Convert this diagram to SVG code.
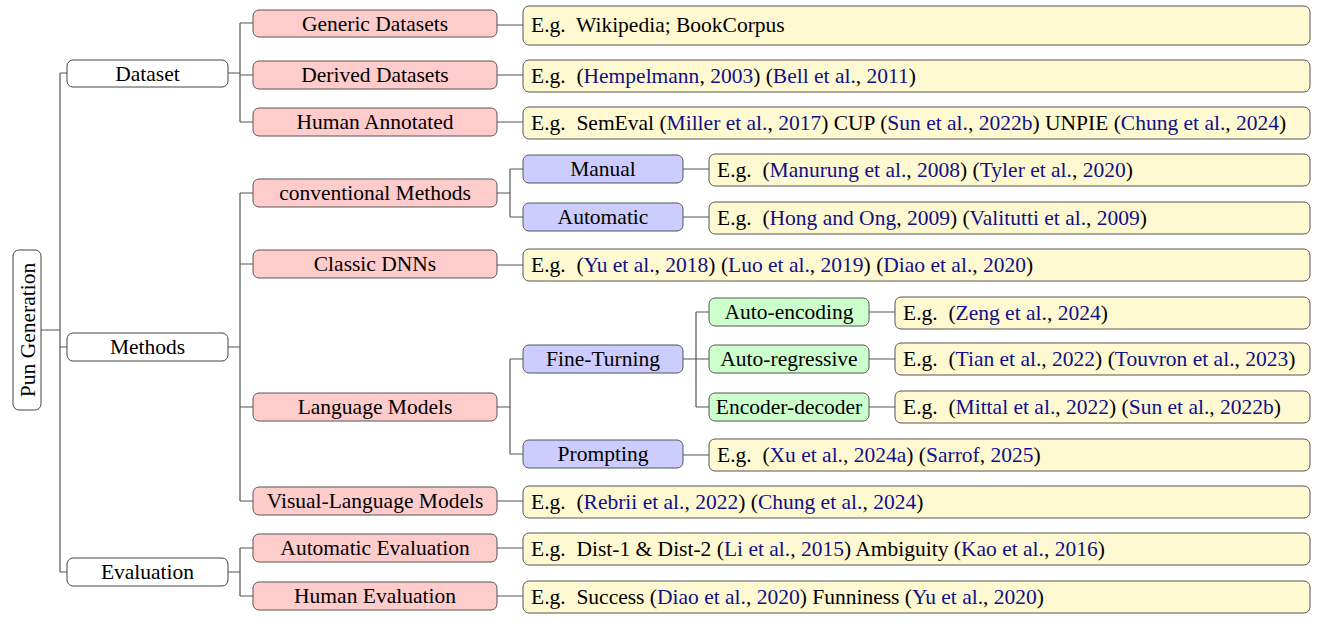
<svg xmlns="http://www.w3.org/2000/svg" width="1317" height="644" viewBox="0 0 1317 644">
<style>
text{font-family:"Liberation Serif","Times New Roman",serif;font-size:21.5px;fill:#000;dominant-baseline:central;white-space:pre}
.c{text-anchor:middle}
.w{fill:#fff;stroke:#444;stroke-width:1}
.p{fill:#ffcccc;stroke:#555;stroke-width:1}
.b{fill:#ccccff;stroke:#555;stroke-width:1}
.g{fill:#ccffcc;stroke:#555;stroke-width:1}
.y{fill:#fff9d2;stroke:#555;stroke-width:1}
.l{fill:#10108a}
#conn path{fill:none;stroke:#555;stroke-width:1.2}
</style>
<rect width="1317" height="644" fill="#fff"/>
<g id="conn">
<path d="M41 330H60M60 73V572M60 73H67M60 347H67M60 572H67"/>
<path d="M228 73H240M240 23V122M240 23H253M240 75H253M240 122H253"/>
<path d="M228 347H240M240 193V501M240 193H253M240 264H253M240 407H253M240 501H253"/>
<path d="M228 572H240M240 548V596M240 548H253M240 596H253"/>
<path d="M497 25H523M497 75H523M497 122H523M497 265H523M497 501H523M497 548H523M497 596H523"/>
<path d="M497 193H510M510 169V217M510 169H523M510 217H523"/>
<path d="M683 169H709M683 217H709M683 455H709"/>
<path d="M497 407H510M510 359V454M510 359H523M510 454H523"/>
<path d="M683 359H696M696 312V407M696 312H709M696 359H709M696 407H709"/>
<path d="M869 312H895M869 359H895M869 407H895"/>
</g>
<g id="root"><rect class="w" x="13" y="250" width="28" height="160" rx="6"/><text class="c" transform="translate(28 330) rotate(-90)">Pun Generation</text></g>
<g id="dataset"><rect class="w" x="67" y="60" width="161" height="27" rx="6"/><text class="c" x="147.5" y="73.5">Dataset</text></g>
<g id="methods"><rect class="w" x="67" y="333" width="161" height="28" rx="6"/><text class="c" x="147.5" y="347">Methods</text></g>
<g id="evaluation"><rect class="w" x="67" y="558" width="161" height="28" rx="6"/><text class="c" x="147.5" y="572">Evaluation</text></g>

<g id="generic"><rect class="p" x="253" y="10" width="244" height="27" rx="6"/><text class="c" x="375" y="23.5">Generic Datasets</text></g>
<g id="derived"><rect class="p" x="253" y="61" width="244" height="28" rx="6"/><text class="c" x="375" y="75">Derived Datasets</text></g>
<g id="human"><rect class="p" x="253" y="108" width="244" height="28" rx="6"/><text class="c" x="375" y="122">Human Annotated</text></g>
<g id="conventional"><rect class="p" x="253" y="179" width="244" height="28" rx="6"/><text class="c" x="375" y="193">conventional Methods</text></g>
<g id="classic"><rect class="p" x="253" y="250" width="244" height="28" rx="6"/><text class="c" x="375" y="264">Classic DNNs</text></g>
<g id="lm"><rect class="p" x="253" y="393" width="244" height="28" rx="6"/><text class="c" x="375" y="407">Language Models</text></g>
<g id="vlm"><rect class="p" x="253" y="487" width="244" height="28" rx="6"/><text class="c" x="375" y="501">Visual-Language Models</text></g>
<g id="autoeval"><rect class="p" x="253" y="534" width="244" height="28" rx="6"/><text class="c" x="375" y="548">Automatic Evaluation</text></g>
<g id="humaneval"><rect class="p" x="253" y="582" width="244" height="28" rx="6"/><text class="c" x="375" y="596">Human Evaluation</text></g>

<g id="manual"><rect class="b" x="523" y="155" width="160" height="28" rx="6"/><text class="c" x="603" y="169">Manual</text></g>
<g id="automatic"><rect class="b" x="523" y="203" width="160" height="28" rx="6"/><text class="c" x="603" y="217">Automatic</text></g>
<g id="finetuning"><rect class="b" x="523" y="345" width="160" height="28" rx="6"/><text class="c" x="603" y="359">Fine-Turning</text></g>
<g id="prompting"><rect class="b" x="523" y="440" width="160" height="28" rx="6"/><text class="c" x="603" y="454">Prompting</text></g>

<g id="autoenc"><rect class="g" x="709" y="298" width="160" height="28" rx="6"/><text class="c" x="789" y="312">Auto-encoding</text></g>
<g id="autoreg"><rect class="g" x="709" y="345" width="160" height="28" rx="6"/><text class="c" x="789" y="359">Auto-regressive</text></g>
<g id="encdec"><rect class="g" x="709" y="393" width="160" height="28" rx="6"/><text class="c" x="789" y="407">Encoder-decoder</text></g>

<g id="y1"><rect class="y" x="523" y="6" width="787" height="39" rx="6"/><text x="531" y="25">E.g.  Wikipedia; BookCorpus</text></g>
<g id="y2"><rect class="y" x="523" y="60" width="787" height="32" rx="6"/><text x="531" y="76">E.g.  (<tspan class="l">Hempelmann</tspan>, <tspan class="l">2003</tspan>) (<tspan class="l">Bell et al.</tspan>, <tspan class="l">2011</tspan>)</text></g>
<g id="y3"><rect class="y" x="523" y="107" width="787" height="32" rx="6"/><text x="531" y="123">E.g.  SemEval (<tspan class="l">Miller et al.</tspan>, <tspan class="l">2017</tspan>) CUP (<tspan class="l">Sun et al.</tspan>, <tspan class="l">2022b</tspan>) UNPIE (<tspan class="l">Chung et al.</tspan>, <tspan class="l">2024</tspan>)</text></g>
<g id="y4"><rect class="y" x="709" y="154" width="601" height="32" rx="6"/><text x="717" y="170">E.g.  (<tspan class="l">Manurung et al.</tspan>, <tspan class="l">2008</tspan>) (<tspan class="l">Tyler et al.</tspan>, <tspan class="l">2020</tspan>)</text></g>
<g id="y5"><rect class="y" x="709" y="202" width="601" height="32" rx="6"/><text x="717" y="218">E.g.  (<tspan class="l">Hong and Ong</tspan>, <tspan class="l">2009</tspan>) (<tspan class="l">Valitutti et al.</tspan>, <tspan class="l">2009</tspan>)</text></g>
<g id="y6"><rect class="y" x="523" y="249" width="787" height="32" rx="6"/><text x="531" y="265">E.g.  (<tspan class="l">Yu et al.</tspan>, <tspan class="l">2018</tspan>) (<tspan class="l">Luo et al.</tspan>, <tspan class="l">2019</tspan>) (<tspan class="l">Diao et al.</tspan>, <tspan class="l">2020</tspan>)</text></g>
<g id="y7"><rect class="y" x="895" y="297" width="415" height="32" rx="6"/><text x="903" y="313">E.g.  (<tspan class="l">Zeng et al.</tspan>, <tspan class="l">2024</tspan>)</text></g>
<g id="y8"><rect class="y" x="895" y="343" width="415" height="32" rx="6"/><text x="903" y="359">E.g.  (<tspan class="l">Tian et al.</tspan>, <tspan class="l">2022</tspan>) (<tspan class="l">Touvron et al.</tspan>, <tspan class="l">2023</tspan>)</text></g>
<g id="y9"><rect class="y" x="895" y="391" width="415" height="32" rx="6"/><text x="903" y="407">E.g.  (<tspan class="l">Mittal et al.</tspan>, <tspan class="l">2022</tspan>) (<tspan class="l">Sun et al.</tspan>, <tspan class="l">2022b</tspan>)</text></g>
<g id="y10"><rect class="y" x="709" y="439" width="601" height="32" rx="6"/><text x="717" y="455">E.g.  (<tspan class="l">Xu et al.</tspan>, <tspan class="l">2024a</tspan>) (<tspan class="l">Sarrof</tspan>, <tspan class="l">2025</tspan>)</text></g>
<g id="y11"><rect class="y" x="523" y="486" width="787" height="32" rx="6"/><text x="531" y="502">E.g.  (<tspan class="l">Rebrii et al.</tspan>, <tspan class="l">2022</tspan>) (<tspan class="l">Chung et al.</tspan>, <tspan class="l">2024</tspan>)</text></g>
<g id="y12"><rect class="y" x="523" y="533" width="787" height="32" rx="6"/><text x="531" y="549">E.g.  Dist-1 &amp; Dist-2 (<tspan class="l">Li et al.</tspan>, <tspan class="l">2015</tspan>) Ambiguity (<tspan class="l">Kao et al.</tspan>, <tspan class="l">2016</tspan>)</text></g>
<g id="y13"><rect class="y" x="523" y="581" width="787" height="32" rx="6"/><text x="531" y="597">E.g.  Success (<tspan class="l">Diao et al.</tspan>, <tspan class="l">2020</tspan>) Funniness (<tspan class="l">Yu et al.</tspan>, <tspan class="l">2020</tspan>)</text></g>
</svg>
